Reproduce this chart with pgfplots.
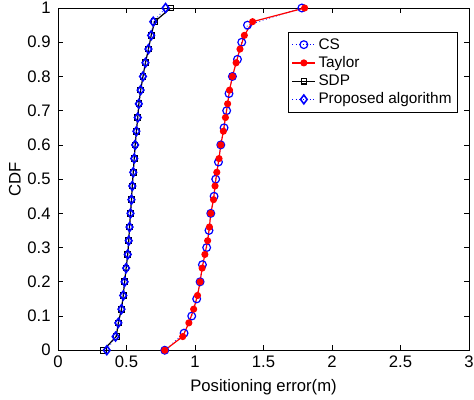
\documentclass[border=0pt]{standalone}
\usepackage{pgfplots}
\pgfplotsset{compat=1.18}
\usepackage{fontspec}
\setmainfont{Liberation Sans}
\begin{document}
\begin{tikzpicture}
\begin{axis}[
  scale only axis,
  width=308pt, height=256.5pt,
  xmin=0, xmax=3, ymin=0, ymax=1,
  xtick={0,0.5,...,3},
  ytick={0,0.1,...,1},
  xticklabels={0,0.5,1,1.5,2,2.5,3},
  yticklabels={0,0.1,0.2,0.3,0.4,0.5,0.6,0.7,0.8,0.9,1},
  tick align=inside,
  major tick length=4pt,
  axis line style={line width=0.6pt},
  every tick/.style={black, line width=0.5pt},
  font=\fontsize{12.5}{14}\selectfont,
  tick label style={font=\fontsize{12.5}{14}\selectfont},
  xlabel={Positioning error(m)},
  ylabel={CDF},
  xlabel style={at={(axis description cs:0.5,-0.108)}, anchor=center, font=\fontsize{12.5}{14}\selectfont},
  ylabel style={at={(axis description cs:-0.105,0.5)}, anchor=center, font=\fontsize{12.5}{14}\selectfont},
  yticklabel style={xshift=-2pt},
  xticklabel style={yshift=-1pt},
  legend style={at={(0.973,0.93)}, anchor=north east, draw=black, line width=0.5pt,
    font=\fontsize{11.5}{13}\selectfont, row sep=0pt, inner sep=2.5pt},
  legend cell align=left,
]
% CS
\addplot[blue, dotted, line width=0.6pt, mark=o, mark size=2.9pt, mark options={solid, line width=0.9pt}] coordinates {
(0.779,0) (0.920,0.05) (0.976,0.10) (1.012,0.15) (1.037,0.20) (1.054,0.25)
(1.085,0.30) (1.102,0.35) (1.115,0.40) (1.139,0.45) (1.151,0.50) (1.171,0.55)
(1.188,0.60) (1.212,0.65) (1.231,0.70) (1.248,0.75) (1.273,0.80) (1.310,0.85)
(1.341,0.90) (1.383,0.95) (1.780,1.00)
};
\addlegendentry{CS}
% Taylor
\addplot[red, solid, line width=0.9pt, mark=*, mark size=2.2pt] coordinates {
(0.779,0) (0.910,0.04) (0.955,0.08) (0.990,0.12) (1.018,0.16) (1.037,0.20)
(1.052,0.24) (1.072,0.28) (1.092,0.32) (1.105,0.36) (1.115,0.40) (1.135,0.44)
(1.146,0.48) (1.159,0.52) (1.175,0.56) (1.188,0.60) (1.207,0.64) (1.222,0.68)
(1.238,0.72) (1.252,0.76) (1.273,0.80) (1.300,0.84) (1.328,0.88) (1.360,0.92)
(1.420,0.96) (1.800,1.00)
};
\addlegendentry{Taylor}
% SDP
\addplot[black, solid, line width=0.9pt, mark=square, mark size=2.1pt, mark options={line width=0.8pt}] coordinates {
(0.330,0) (0.425,0.04) (0.440,0.08) (0.463,0.12) (0.476,0.16) (0.486,0.20)
(0.497,0.24) (0.509,0.28) (0.516,0.32) (0.522,0.36) (0.529,0.40) (0.536,0.44)
(0.542,0.48) (0.549,0.52) (0.556,0.56) (0.563,0.60) (0.572,0.64) (0.582,0.68)
(0.590,0.72) (0.603,0.76) (0.620,0.80) (0.638,0.84) (0.660,0.88) (0.680,0.92)
(0.705,0.96) (0.822,1.00)
};
\addlegendentry{SDP}
% Proposed
\addplot[blue, dotted, line width=0.6pt, mark=diamond, mark size=3.3pt, mark options={solid, line width=1.2pt}] coordinates {
(0.356,0) (0.420,0.04) (0.440,0.08) (0.463,0.12) (0.476,0.16) (0.486,0.20)
(0.497,0.24) (0.509,0.28) (0.516,0.32) (0.522,0.36) (0.529,0.40) (0.536,0.44)
(0.542,0.48) (0.549,0.52) (0.556,0.56) (0.563,0.60) (0.572,0.64) (0.582,0.68)
(0.590,0.72) (0.603,0.76) (0.620,0.80) (0.638,0.84) (0.660,0.88) (0.680,0.92)
(0.695,0.96) (0.785,1.00)
};
\addlegendentry{Proposed algorithm}
\end{axis}
\pgfresetboundingbox
\path ([xshift=-43.5pt,yshift=-36.75pt]current axis.south west) rectangle ([xshift=3.75pt,yshift=6pt]current axis.north east);
\end{tikzpicture}
\end{document}
